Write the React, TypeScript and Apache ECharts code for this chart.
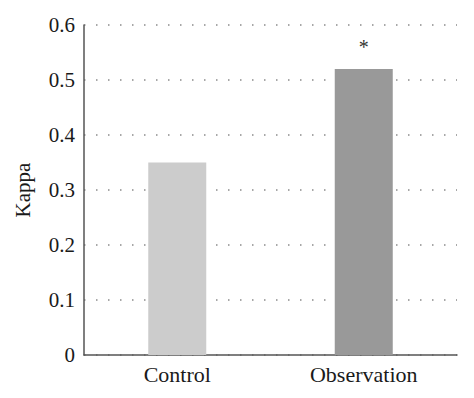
import React, { useEffect, useRef } from "react";
import * as echarts from "echarts";

const categories = ["Control", "Observation"];
const kappaValues = [0.35, 0.52];
const barColors = ["#cccccc", "#999999"];
const significance = ["", "*"];
const yTicks = { min: 0, max: 0.6, interval: 0.1 };

export default function App() {
  const ref = useRef<HTMLDivElement>(null);
  useEffect(() => {
    if (!ref.current) return;
    const chart = echarts.init(ref.current, null, { renderer: "svg" });
    const font = "'Liberation Serif', 'DejaVu Serif', serif";
    chart.setOption({
      animation: false,
      backgroundColor: "#ffffff",
      grid: { left: 84, right: 17, top: 25, bottom: 43, containLabel: false },
      xAxis: {
        type: "category",
        data: categories,
        axisLine: { show: true, lineStyle: { color: "#555555", width: 1.5 } },
        axisTick: { show: false },
        axisLabel: { color: "#1a1a1a", fontSize: 22, fontFamily: font, margin: 8 },
      },
      yAxis: {
        type: "value",
        min: yTicks.min,
        max: yTicks.max,
        interval: yTicks.interval,
        name: "Kappa",
        nameLocation: "middle",
        nameGap: 51,
        nameTextStyle: { color: "#1a1a1a", fontSize: 21, fontFamily: font },
        axisLine: { show: true, lineStyle: { color: "#555555", width: 1.5 } },
        axisTick: { show: false },
        axisLabel: {
          color: "#1a1a1a",
          fontSize: 21,
          fontFamily: font,
          margin: 9,
          formatter: (v: number) => (v === 0 ? "0" : v.toFixed(1)),
        },
        splitLine: {
          show: true,
          lineStyle: { color: "#8a8a8a", width: 1.5, type: [1.5, 10.5] },
        },
      },
      series: [
        {
          type: "bar",
          barWidth: 58,
          data: kappaValues.map((v, i) => ({
            value: v,
            itemStyle: { color: barColors[i] },
            label: {
              show: significance[i] !== "",
              position: "top",
              distance: 12,
              formatter: significance[i],
              fontSize: 20,
              fontFamily: font,
              color: "#333333",
            },
          })),
        },
      ],
    });
    return () => chart.dispose();
  }, []);
  return <div ref={ref} style={{ width: 474, height: 398, margin: -8 }} />;
}
